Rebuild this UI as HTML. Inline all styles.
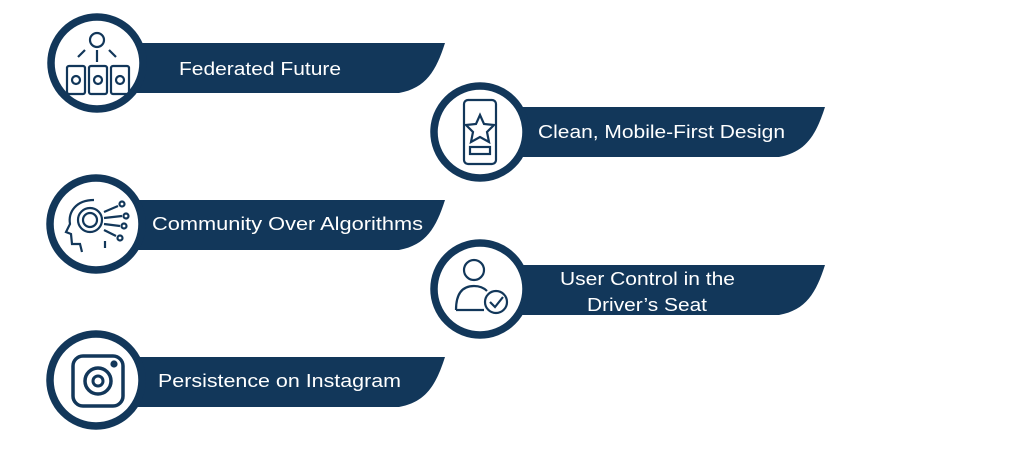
<!DOCTYPE html>
<html><head><meta charset="utf-8"><style>
html,body{margin:0;padding:0;background:#fff;}
svg{display:block}
text{font-family:"Liberation Sans",sans-serif;fill:#fff;font-size:18px;}
</style></head><body>
<svg width="1024" height="454" viewBox="0 0 1024 454" xmlns="http://www.w3.org/2000/svg">
<defs>
<g id="ban"><path d="M0 0 L349 0 C340 28 330 45 303 50 L0 50 Z" fill="#12375a"/></g>
</defs>
<g fill="#12375a">
<use href="#ban" x="96" y="43"/>
<use href="#ban" x="476" y="107"/>
<use href="#ban" x="96" y="200"/>
<use href="#ban" x="476" y="265"/>
<use href="#ban" x="96" y="357"/>
</g>
<g fill="#fff" stroke="#12375a" stroke-width="7.5">
<circle cx="97" cy="63" r="46"/>
<circle cx="480" cy="132" r="46"/>
<circle cx="96" cy="224" r="46"/>
<circle cx="480" cy="289" r="46"/>
<circle cx="96" cy="380" r="46"/>
</g>
<g fill="none" stroke="#12375a" stroke-width="2.2">
<circle cx="97" cy="40" r="7"/>
<rect x="67" y="66" width="18" height="28" rx="2"/><rect x="89" y="66" width="18" height="28" rx="2"/><rect x="111" y="66" width="18" height="28" rx="2"/>
<circle cx="76" cy="80" r="4"/><circle cx="98" cy="80" r="4"/><circle cx="120" cy="80" r="4"/>
<path d="M97 50 V62 M85 50 L78 57 M109 50 L116 57"/>
<rect x="464" y="100" width="32" height="64" rx="4"/>
<path d="M480 115 L484 124 L494 125 L487 132 L489 142 L480 137 L471 142 L473 132 L466 125 L476 124 Z"/>
<rect x="470" y="147" width="20" height="7"/>
<path d="M94 200 C76 200 68 212 70 224 L66 232 L71 234 L72 244 L80 244 L82 252"/>
<circle cx="90" cy="220" r="7"/><circle cx="90" cy="220" r="12"/>
<path d="M104 212 L118 206 M104 218 L122 216 M104 224 L120 226 M104 230 L116 236 M105 241 V248"/>
<circle cx="122" cy="204" r="2.5"/><circle cx="126" cy="216" r="2.5"/><circle cx="124" cy="226" r="2.5"/><circle cx="120" cy="238" r="2.5"/>
<circle cx="474" cy="270" r="10"/>
<path d="M456 310 C456 294 462 286 474 286 C480 286 484 288 487 291 M456 310 H484"/>
<circle cx="496" cy="302" r="11"/><path d="M490 302 L495 307 L503 297"/>
<rect x="73" y="356" width="50" height="50" rx="10" stroke-width="3.5"/>
<circle cx="98" cy="381" r="13" stroke-width="3.5"/><circle cx="98" cy="381" r="5" stroke-width="3"/>
<circle cx="114" cy="364" r="2.5" fill="#12375a"/>
</g>
<text x="179" y="75" textLength="162" lengthAdjust="spacingAndGlyphs">Federated Future</text>
<text x="538" y="138" textLength="247" lengthAdjust="spacingAndGlyphs">Clean, Mobile-First Design</text>
<text x="152" y="230" textLength="271" lengthAdjust="spacingAndGlyphs">Community Over Algorithms</text>
<text x="560" y="285" textLength="175" lengthAdjust="spacingAndGlyphs">User Control in the</text>
<text x="587" y="311" textLength="120" lengthAdjust="spacingAndGlyphs">Driver’s Seat</text>
<text x="158" y="387" textLength="243" lengthAdjust="spacingAndGlyphs">Persistence on Instagram</text>
</svg>
</body></html>
